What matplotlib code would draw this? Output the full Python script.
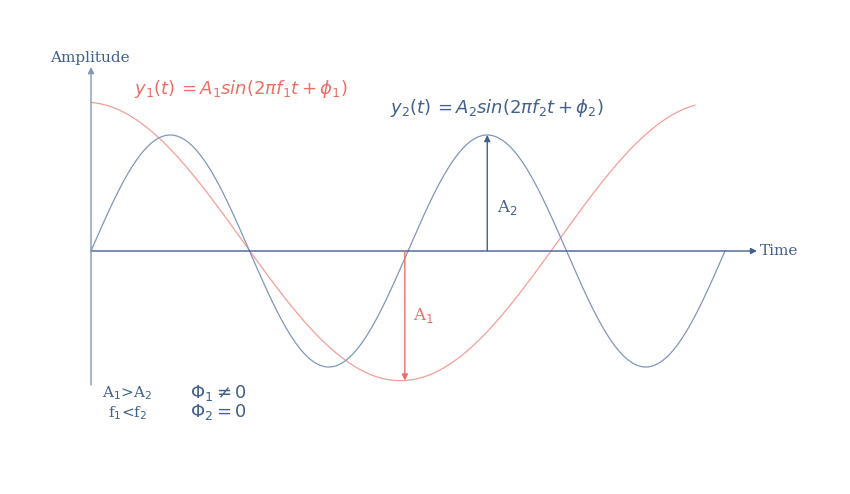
import numpy as np
import matplotlib
matplotlib.use("Agg")
import matplotlib.pyplot as plt

plt.rcParams["mathtext.fontset"] = "dejavusans"

# wave parameters (blue wave: amplitude 1, period 1)
A1, f1, phi1, offset1 = 1.20, 0.5035, 1.6246, 0.082
A2, f2, phi2 = 1.0, 1.0, 0.0
t_red_end = 1.905
t_blue_end = 2.0
t_A1, t_A2 = 0.99, 1.25

axis_blue = "#41608f"
curve_blue = "#7f97bb"
text_red = "#ef6d65"
curve_red = "#f49e98"

fig = plt.figure(figsize=(8.5, 4.94), dpi=100)
ax = fig.add_axes([0, 0, 1, 1])
ax.set_xlim(-0.2871, 2.3943)
ax.set_ylim(-2.0948, 2.1638)
ax.axis("off")

t1 = np.linspace(0, t_red_end, 400)
t2 = np.linspace(0, t_blue_end, 400)
y1 = A1 * np.sin(2 * np.pi * f1 * t1 + phi1) + offset1
y2 = A2 * np.sin(2 * np.pi * f2 * t2 + phi2)

ax.plot(t1, y1, color=curve_red, lw=0.9)
ax.plot(t2, y2, color=curve_blue, lw=0.9)

# axes with arrow heads
arrow = dict(arrowstyle="-|>", color=axis_blue, lw=1.0, mutation_scale=9,
             shrinkA=0, shrinkB=0)
ax.annotate("", xy=(2.101, 0), xytext=(0, 0), arrowprops=arrow)
ax.annotate("", xy=(0, 1.586), xytext=(0, -1.155),
            arrowprops=dict(arrow, color=curve_blue))

# amplitude arrows
ax.annotate("", xy=(t_A2, A2 * np.sin(2 * np.pi * f2 * t_A2 + phi2)), xytext=(t_A2, 0),
            arrowprops=dict(arrow, color=axis_blue))
y_min = A1 * np.sin(2 * np.pi * f1 * t_A1 + phi1) + offset1
ax.annotate("", xy=(t_A1, y_min), xytext=(t_A1, 0),
            arrowprops=dict(arrow, color=text_red))

serif = "DejaVu Serif"
ax.text(-0.129, 1.664, "Amplitude", family=serif, fontsize=11, color=axis_blue,
        va="center", ha="left")
ax.text(2.110, 0.0, "Time", family=serif, fontsize=11, color=axis_blue,
        va="center", ha="left")

ax.text(0.136, 1.397, r"$y_1(t)\,=A_1sin(2\pi f_1t+\phi_1)$", fontsize=13,
        color=text_red, va="center", ha="left")
ax.text(0.943, 1.233, r"$y_2(t)\,=A_2sin(2\pi f_2t+\phi_2)$", fontsize=13,
        color=axis_blue, va="center", ha="left")

ax.text(1.281, 0.379, r"A$_\mathsf{2}$", family=serif, fontsize=12, color=axis_blue,
        va="center", ha="left")
ax.text(1.016, -0.552, r"A$_\mathsf{1}$", family=serif, fontsize=12, color=text_red,
        va="center", ha="left")
ax.text(0.035, -1.224, r"A$_\mathsf{1}$>A$_\mathsf{2}$", family=serif, fontsize=11,
        color=axis_blue, va="center", ha="left")
ax.text(0.117, -1.397, r"f$_\mathsf{1}$<f$_\mathsf{2}$", family=serif, fontsize=11,
        color=axis_blue, va="center", ha="center")
ax.text(0.312, -1.224, r"$\Phi_1\neq0$", fontsize=13, color=axis_blue,
        va="center", ha="left")
ax.text(0.312, -1.388, r"$\Phi_2=0$", fontsize=13, color=axis_blue,
        va="center", ha="left")

fig.savefig("out.png", dpi=100)
